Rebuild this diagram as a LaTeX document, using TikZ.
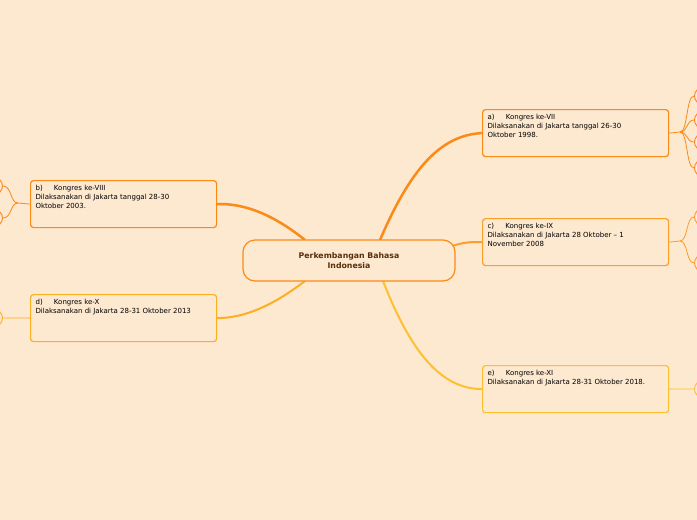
\documentclass[tikz,border=0pt]{standalone}
\usepackage{fontspec}
\setmainfont{DejaVu Sans}
\newcommand{\bxt}[1]{\parbox[t][37pt][t]{176pt}{\raggedright\parbox{160pt}{\raggedright #1}}}
\begin{document}
\begin{tikzpicture}[x=1pt,y=-1pt,
  box/.style={draw,line width=1.2pt,rounded corners=3pt,fill=bg,minimum width=186pt,minimum height=47pt,align=left,inner xsep=5pt,inner ysep=5pt,font=\fontsize{7}{9}\selectfont},
  leaf/.style={draw,line width=0.9pt,circle,minimum size=17pt,inner sep=0pt,fill=bg},
  br/.style={line width=0.8pt}]
\definecolor{bg}{HTML}{FDE8D0}
\definecolor{oA}{HTML}{FB8A17}
\definecolor{oC}{HTML}{FD9E26}
\definecolor{oD}{HTML}{FDAF22}
\definecolor{oE}{HTML}{FDC02F}
\definecolor{tx}{HTML}{5A2E0A}
\useasboundingbox[fill=bg] (0,0) rectangle (697,520);
\foreach \n/\y/\c in {la1/96/oA,la2/120/oA,la3/142/oA,la4/168/oA,lc1/217/oC,lc2/263/oC,le1/389/oE}
  \node[leaf,draw=\c] (\n) at (703,\y) {};
\foreach \n/\y/\c in {lb1/186/oA,lb2/218/oA,ld1/318/oD}
  \node[leaf,draw=\c] (\n) at (-6,\y) {};
\coordinate (cA) at (380,240); \coordinate (cC) at (452,246);
\coordinate (cE) at (383,281); \coordinate (cB) at (305,240); \coordinate (cD) at (305,281);
\node[box,draw=oA,anchor=north west] (a) at (482,109) {\bxt{a)\hspace{1.6em}Kongres ke-VII\\Dilaksanakan di Jakarta tanggal 26-30 Oktober 1998.}};
\node[box,draw=oC,anchor=north west] (c) at (482,218) {\bxt{c)\hspace{1.6em}Kongres ke-IX\\Dilaksanakan di Jakarta 28 Oktober – 1 November 2008}};
\node[box,draw=oE,anchor=north west] (e) at (482,365) {\bxt{e)\hspace{1.6em}Kongres ke-XI\\Dilaksanakan di Jakarta 28-31 Oktober 2018.}};
\node[box,draw=oA,anchor=north west] (b) at (30,180) {\bxt{b)\hspace{1.6em}Kongres ke-VIII\\Dilaksanakan di Jakarta tanggal 28-30 Oktober 2003.}};
\node[box,draw=oD,anchor=north west] (d) at (30,294) {\bxt{d)\hspace{1.6em}Kongres ke-X\\Dilaksanakan di Jakarta 28-31 Oktober 2013}};
\draw[oA,line width=2.5pt] (cA) .. controls (410,170) and (440,135) .. (a.west);
\draw[oC,line width=2pt] (cC) .. controls (465,242) and (470,242) .. (c.west);
\draw[oE,line width=2pt] (cE) .. controls (410,350) and (440,389) .. (e.west);
\draw[oA,line width=2.5pt] (cB) .. controls (280,220) and (250,203) .. (b.east);
\draw[oD,line width=2pt] (cD) .. controls (280,300) and (250,318) .. (d.east);
\node[draw=oA,line width=1.2pt,rounded corners=12pt,fill=bg,minimum width=212pt,minimum height=41pt,align=center,text=tx,font=\bfseries\fontsize{7.8}{9.5}\selectfont] (m) at (349,260.5) {Perkembangan Bahasa\\Indonesia};
\coordinate (ja) at (680,132); \coordinate (jc) at (680,241); \coordinate (jb) at (18,203);
\draw[oA,br] (a.east) -- (ja);
\foreach \n in {la1,la2,la3,la4} \draw[oA,br] (ja) .. controls (688,132) and (686,0 |- \n.west) .. (\n.west);
\draw[oC,br] (c.east) -- (jc);
\foreach \n in {lc1,lc2} \draw[oC,br] (jc) .. controls (688,241) and (686,0 |- \n.west) .. (\n.west);
\draw[oE,br] (e.east) -- (le1.west);
\draw[oA,br] (b.west) -- (jb);
\foreach \n in {lb1,lb2} \draw[oA,br] (jb) .. controls (10,203) and (12,0 |- \n.east) .. (\n.east);
\draw[oD,br] (d.west) -- (ld1.east);
\end{tikzpicture}
\end{document}
